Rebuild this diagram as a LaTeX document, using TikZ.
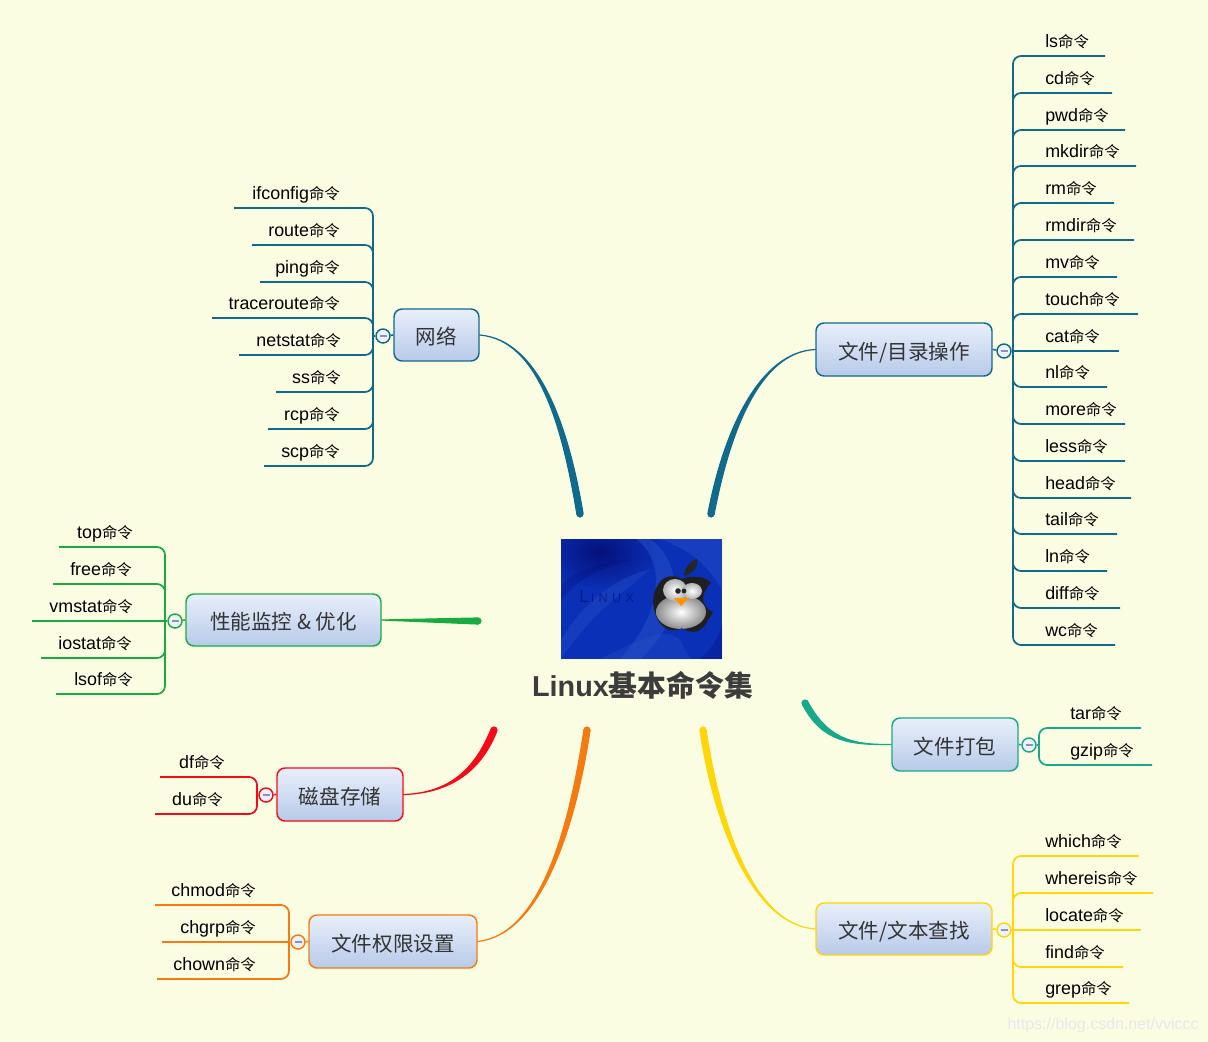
\documentclass[tikz,border=0pt]{standalone}
\usepackage{fontspec}
\usetikzlibrary{calc}
\setmainfont{Liberation Sans}
\newfontfamily\cjk{Noto Sans CJK SC}
\definecolor{paper}{HTML}{FBFDE3}
\definecolor{cblue}{HTML}{0F6A8B}
\definecolor{cgreen}{HTML}{1AAB40}
\definecolor{cred}{HTML}{F60A1A}
\definecolor{corange}{HTML}{F57B10}
\definecolor{cyellow}{HTML}{FFD60A}
\definecolor{cteal}{HTML}{17A98C}
\definecolor{boxtop}{HTML}{E9EFFB}
\definecolor{boxbot}{HTML}{B7CAE9}
\definecolor{textdark}{HTML}{333333}
\definecolor{titledark}{HTML}{3C3C3C}
\definecolor{hubfill}{HTML}{EEF0FA}
\definecolor{minusc}{HTML}{8C90C0}
\definecolor{imgblue}{HTML}{0B30B8}
\definecolor{imgdark}{HTML}{04107A}
\definecolor{imglight}{HTML}{2A55C8}
\tikzset{
  topicbox/.style={draw=#1,line width=1.1pt,rounded corners=6pt,top color=boxtop,bottom color=boxbot,
    inner sep=0pt,text=textdark,font=\cjk\fontsize{15.4}{18}\selectfont},
  hubnode/.style={circle,draw=#1,line width=1.1pt,fill=hubfill,minimum size=10.5pt,inner sep=0pt},
  leaftext/.style={inner sep=0pt,text=black,font=\fontsize{13.4}{15}\selectfont},
  branch/.style={draw=#1,line width=1.3pt,rounded corners=6pt},
  link/.style={draw=#1,line width=1.2pt},
  taperfill/.style={fill=#1,draw=#1,line width=0.9pt,line join=round}
}
% #1 colour, #2 start, #3 c1, #4 c2, #5 end, #6 half-width offset
\newcommand\taper[6]{%
  \path[taperfill=#1] (#2) .. controls (#3) and ($(#4)+(#6)$) .. ($(#5)+(#6)$) -- ($(#5)-(#6)$)
     .. controls ($(#4)-(#6)$) and (#3) .. (#2) -- cycle;
  \fill[#1] (#5) circle[radius=2.7pt];}
% #1 name, #2 colour, #3 centre, #4 w, #5 h, #6 text
\newcommand\topic[6]{%
  \node[topicbox=#2,minimum width=#4*0.75pt,minimum height=#5*0.75pt] (#1) at (#3) {\raisebox{-7.4pt}[0pt][0pt]{#6}};}
% #1 name, #2 colour, #3 pos
\newcommand\hub[3]{%
  \node[hubnode=#2] (#1) at (#3) {};
  \draw[minusc,line width=0.9pt] ($(#1)+(-3.5,0)$) -- ($(#1)+(3.5,0)$);}
\newcommand\cmd[1]{#1{\cjk\fontsize{11.5}{15}\selectfont 命令}}
% #1 trunk, #2 colour, #3 leaf coordinate, #4 underline y, #5 trunk y
\newcommand\limb[5]{%
  \ifnum#4=#5\relax\draw[link=#2] (#1) -- (#3);\else\draw[branch=#2] (#1) |- (#3);\fi}
\begin{document}
\begin{tikzpicture}[x=0.75pt,y=-0.75pt]
\useasboundingbox (0,0) rectangle (1208,1042);
\fill[paper] (0,0) rectangle (1208,1042);

% central image
\begin{scope}
\clip (561,539) rectangle (722,659);
\fill[imgblue] (561,539) rectangle (722,659);
\shade[inner color=imgdark,outer color=imgblue] (600,552) ellipse [x radius=62,y radius=38];
\fill[imglight,opacity=.45] (636,539) .. controls (665,560) and (665,610) .. (620,659) -- (640,659)
   .. controls (690,615) and (680,560) .. (650,539) -- cycle;
\fill[imglight,opacity=.4] (660,539) -- (722,539) -- (722,590) .. controls (705,560) and (685,548) .. (660,539) -- cycle;
\fill[imglight,opacity=.35] (561,640) .. controls (585,600) and (620,575) .. (650,570)
   .. controls (625,590) and (590,615) .. (561,659) -- cycle;
\fill[imgdark,opacity=.3] (561,600) .. controls (580,575) and (610,565) .. (630,560)
   .. controls (605,560) and (575,570) .. (561,585) -- cycle;
\fill[imglight,opacity=.3] (600,659) .. controls (640,640) and (665,625) .. (680,640) -- (690,659) -- cycle;
\fill[imgdark,opacity=.35] (700,659) .. controls (710,650) and (718,640) .. (722,625) -- (722,659) -- cycle;
\node[inner sep=0pt,text=imgdark,opacity=.7,anchor=base west,font=\fontsize{13}{13}\selectfont] (linuxmark) at (579,602)
   {L\fontsize{9.5}{9.5}\selectfont\kern1.5pt I\kern3.2pt N\kern3.2pt U\kern3.2pt X};
% apple penguin
\fill[black!85] (684,576) .. controls (684,568) and (690,561) .. (697,559) .. controls (699,567) and (692,574) .. (684,576) -- cycle;
\begin{scope}
\clip (682,579) .. controls (675,575) and (665,575) .. (660,582)
   .. controls (652,592) and (651,605) .. (657,618) .. controls (661,628) and (672,634) .. (682,628)
   .. controls (690,634) and (702,634) .. (708,620) .. controls (710,617) and (712,614) .. (713,612)
   .. controls (703,608) and (698,596) .. (711,583) .. controls (705,576) and (692,575) .. (682,579) -- cycle;
\fill[black!88] (650,570) rectangle (716,636);
\shade[inner color=white,outer color=black!45] (681,612) ellipse [x radius=25,y radius=17];
\end{scope}
\shade[inner color=white,outer color=black!30] (675,590) ellipse [x radius=12,y radius=11];
\shade[inner color=white,outer color=black!30] (692,591) ellipse [x radius=10,y radius=8];
\fill[black!85] (678,591) circle[radius=2.1pt];
\fill[black!85] (684,591) circle[radius=1.8pt];
\fill[orange!85!yellow] (674,598) -- (689,598) -- (681,606) -- cycle;
\end{scope}
\node[inner sep=0pt,text=titledark,font=\bfseries\fontsize{21.6}{26}\selectfont] (root) at (642.5,685)
  {Linux{\cjk\bfseries 基本命令集}};

% main branch end points
\coordinate (eNet) at (580,514);
\coordinate (eFile) at (711,514);
\coordinate (ePerf) at (478,621);
\coordinate (eDisk) at (494,730);
\coordinate (eAuth) at (587,730);
\coordinate (eFind) at (703,730);
\coordinate (ePack) at (805,703);

% topics
\topic{net}{cblue}{436.5,335}{85}{52}{网络}
\topic{file}{cblue}{904,349.5}{176}{53}{文件/目录操作}
\topic{perf}{cgreen}{283.5,620}{195}{52}{性能监控 \& 优化}
\topic{disk}{cred}{340,794.5}{126}{53}{磁盘存储}
\topic{auth}{corange}{393,941.5}{168}{53}{文件权限设置}
\topic{pack}{cteal}{955,744.5}{126}{53}{文件打包}
\topic{find}{cyellow}{904,929}{176}{52}{文件/文本查找}

% tapered links
\taper{cblue}{net.east}{540,340}{566,430}{eNet}{3,-0.7}
\taper{cblue}{file.west}{760,352}{727,430}{eFile}{3,0.7}
\path[taperfill=cgreen] (perf.east) -- ($(ePerf)+(0,3)$) -- ($(ePerf)-(0,3)$) -- cycle;
\fill[cgreen] (ePerf) circle[radius=2.7pt];
\taper{cred}{disk.east}{450,793}{478,770}{eDisk}{2.6,1.6}
\taper{corange}{auth.east}{540,935}{572,830}{eAuth}{3,0.5}
\taper{cyellow}{find.west}{755,925}{718,830}{eFind}{3,-0.5}
\taper{cteal}{pack.west}{850,745}{825,740}{ePack}{2.2,-2.2}

% hubs
\hub{hFile}{cblue}{1004,351}
\hub{hNet}{cblue}{383,336}
\hub{hPerf}{cgreen}{175,621}
\hub{hDisk}{cred}{266,795}
\hub{hAuth}{corange}{298,942}
\hub{hPack}{cteal}{1029,745}
\hub{hFind}{cyellow}{1004,930}
\draw[link=cblue] (file.east) -- (hFile);
\draw[link=cblue] (net.west) -- (hNet);
\draw[link=cgreen] (perf.west) -- (hPerf);
\draw[link=cred] (disk.west) -- (hDisk);
\draw[link=corange] (auth.west) -- (hAuth);
\draw[link=cteal] (pack.east) -- (hPack);
\draw[link=cyellow] (find.east) -- (hFind);

% right-hand leaves: name/text/underline y/underline end
\coordinate (tFile) at (1013,351);
\draw[link=cblue] (hFile) -- (tFile);
\foreach \n/\t/\y/\e in {a1/ls/56/1105,a2/cd/93/1112,a3/pwd/130/1125,a4/mkdir/166/1136,a5/rm/203/1114,a6/rmdir/240/1134,a7/mv/277/1117,a8/touch/314/1138,a9/cat/351/1119,a10/nl/387/1107,a11/more/424/1125,a12/less/461/1125,a13/head/498/1131,a14/tail/534/1117,a15/ln/571/1107,a16/diff/608/1120,a17/wc/645/1115}{
  \node[leaftext,anchor=base west] (\n) at (1045,\y-8.5) {\cmd{\t}};
  \coordinate (\n e) at (\e,\y);
  \limb{tFile}{cblue}{\n e}{\y}{351}
}
\coordinate (tFind) at (1013,930);
\draw[link=cyellow] (hFind) -- (tFind);
\foreach \n/\t/\y/\e in {f1/which/856/1139,f2/whereis/893/1153,f3/locate/930/1141,f4/find/967/1123,f5/grep/1003/1129}{
  \node[leaftext,anchor=base west] (\n) at (1045,\y-8.5) {\cmd{\t}};
  \coordinate (\n e) at (\e,\y);
  \limb{tFind}{cyellow}{\n e}{\y}{930}
}
\coordinate (tPack) at (1039,745);
\draw[link=cteal] (hPack) -- (tPack);
\foreach \n/\t/\y/\e in {k1/tar/728/1141,k2/gzip/765/1152}{
  \node[leaftext,anchor=base west] (\n) at (1070,\y-8.5) {\cmd{\t}};
  \coordinate (\n e) at (\e,\y);
  \limb{tPack}{cteal}{\n e}{\y}{745}
}
% left-hand leaves: name/text/underline y/underline start/text right edge
\coordinate (tNet) at (373,336);
\draw[link=cblue] (hNet) -- (tNet);
\foreach \n/\t/\y/\e/\r in {n1/ifconfig/208/234/340,n2/route/245/252/340,n3/ping/282/260/340,n4/traceroute/318/212/340,n5/netstat/355/239/341,n6/ss/392/276/341,n7/rcp/429/268/340,n8/scp/466/264/340}{
  \node[leaftext,anchor=base east] (\n) at (\r,\y-8.5) {\cmd{\t}};
  \coordinate (\n e) at (\e,\y);
  \limb{tNet}{cblue}{\n e}{\y}{336}
}
\coordinate (tPerf) at (165,621);
\draw[link=cgreen] (hPerf) -- (tPerf);
\foreach \n/\t/\y/\e/\r in {p1/top/547/59/133,p2/free/584/53/132,p3/vmstat/621/32/133,p4/iostat/658/41/132,p5/lsof/694/56/133}{
  \node[leaftext,anchor=base east] (\n) at (\r,\y-8.5) {\cmd{\t}};
  \coordinate (\n e) at (\e,\y);
  \limb{tPerf}{cgreen}{\n e}{\y}{621}
}
\coordinate (tDisk) at (257,795);
\draw[link=cred] (hDisk) -- (tDisk);
\foreach \n/\t/\y/\e/\r in {d1/df/777/160/225,d2/du/814/155/223}{
  \node[leaftext,anchor=base east] (\n) at (\r,\y-8.5) {\cmd{\t}};
  \coordinate (\n e) at (\e,\y);
  \limb{tDisk}{cred}{\n e}{\y}{795}
}
\coordinate (tAuth) at (289,942);
\draw[link=corange] (hAuth) -- (tAuth);
\foreach \n/\t/\y/\e/\r in {u1/chmod/905/155/256,u2/chgrp/942/162/256,u3/chown/979/157/256}{
  \node[leaftext,anchor=base east] (\n) at (\r,\y-8.5) {\cmd{\t}};
  \coordinate (\n e) at (\e,\y);
  \limb{tAuth}{corange}{\n e}{\y}{942}
}
% watermark
\node[inner sep=0pt,text=black!9,anchor=east,font=\fontsize{12}{15}\selectfont] (mark) at (1199,1025) {https://blog.csdn.net/vviccc};
\end{tikzpicture}
\end{document}
